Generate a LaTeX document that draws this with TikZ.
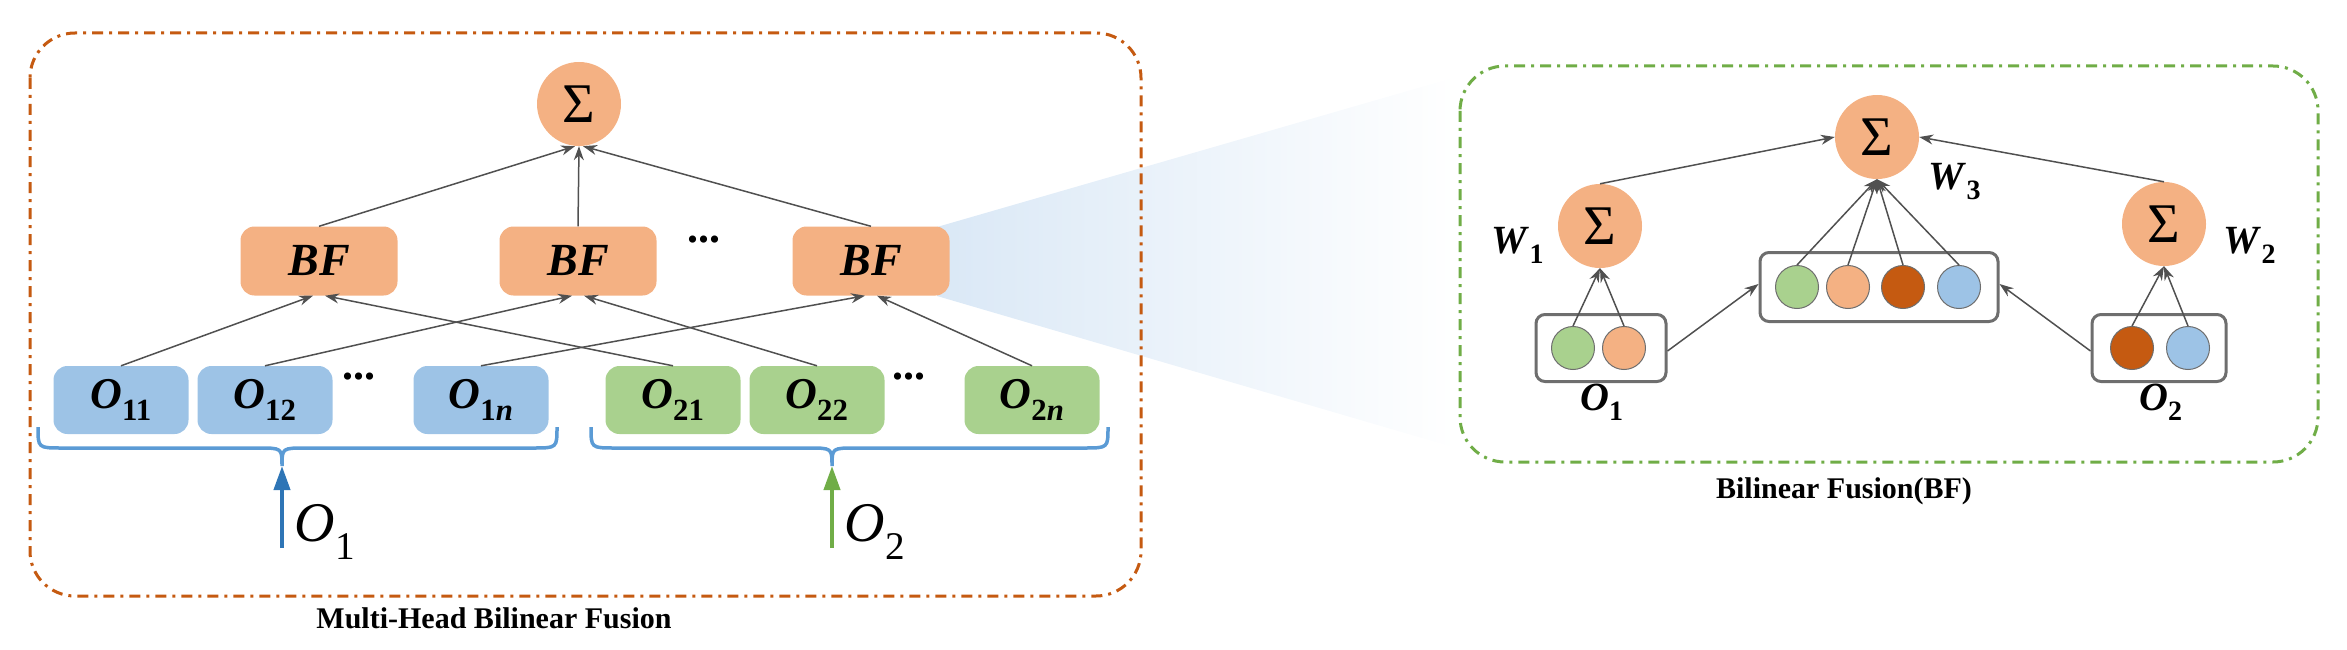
\documentclass[tikz,border=0pt]{standalone}
\usepackage{fontspec}
\setmainfont{Liberation Serif}
\usetikzlibrary{arrows.meta}
\definecolor{cor}{RGB}{244,177,131}
\definecolor{cbl}{RGB}{157,195,230}
\definecolor{cgr}{RGB}{169,209,142}
\definecolor{cdo}{RGB}{197,90,17}
\definecolor{cbrace}{RGB}{91,155,213}
\definecolor{cdb}{RGB}{46,117,182}
\definecolor{cdg}{RGB}{112,173,71}
\definecolor{carr}{RGB}{80,80,80}
\definecolor{cbox}{RGB}{110,110,110}
\definecolor{ctri}{RGB}{180,208,235}
\definecolor{ctril}{RGB}{218,232,246}
\newcommand{\bi}[2]{\textbf{\textit{#1}}\textsubscript{\textbf{#2}}}
\newcommand{\ii}[2]{\textit{#1}\textsubscript{#2}}
\tikzset{
  sig/.style={circle,fill=cor,minimum size=84pt,inner sep=0pt,font=\fontsize{56}{60}\selectfont},
  bf/.style={rounded corners=14pt,fill=cor,minimum width=157pt,minimum height=69pt,font=\fontsize{46}{48}\selectfont\bfseries\itshape},
  ob/.style={rounded corners=14pt,fill=cbl,minimum width=135pt,minimum height=68pt,font=\fontsize{44}{46}\selectfont},
  og/.style={ob,fill=cgr},
  dot/.style={circle,draw=cbox,line width=1pt,minimum size=43pt,inner sep=0pt},
  grp/.style={draw=cbox,line width=3pt,rounded corners=9pt},
  arr/.style={draw=carr,line width=1.5pt,-{Stealth[length=14pt,width=10pt]}},
  frame/.style={line width=3pt,rounded corners=45pt,dash pattern=on 11pt off 6pt on 3pt off 6pt},
  lbl/.style={font=\fontsize{40}{42}\selectfont},
  big/.style={font=\fontsize{56}{58}\selectfont},
  dd/.style={font=\fontsize{44}{44}\selectfont\bfseries},
  ttl/.style={font=\fontsize{30}{32}\selectfont\bfseries}
}
\begin{document}
\begin{tikzpicture}[x=1pt,y=-1pt]
\useasboundingbox (0,0) rectangle (2347,650);
\shade[left color=ctril,middle color=ctri,right color=white] (937,227) -- (1456,77) -- (1456,448) -- (937,296) -- cycle;
\draw[frame,draw=cdo] (30,33) rectangle (1141,596);
\node[ttl] (t1) at (494,618) {Multi-Head Bilinear Fusion};
\node[sig] (S) at (579,104) {Σ};
\node[bf] (B1) at (319,261) {BF};
\node[bf] (B2) at (578,261) {BF};
\node[bf] (B3) at (871,261) {BF};
\node[dd] (d0) at (704,240) {...};
\node[ob] (a1) at (121,400) {\bi{O}{11}};
\node[ob] (a2) at (265,400) {\bi{O}{12}};
\node[ob] (an) at (481,400) {\bi{O}{1\textit{n}}};
\node[og] (b1) at (673,400) {\bi{O}{21}};
\node[og] (b2) at (817,400) {\bi{O}{22}};
\node[og] (bn) at (1032,400) {\bi{O}{2\textit{n}}};
\node[dd] (d1) at (359,377) {...};
\node[dd] (d2) at (909,377) {...};
\draw[arr] (a1.north) -- ([xshift=-6pt]B1.south);
\draw[arr] (b1.north) -- ([xshift=6pt]B1.south);
\draw[arr] (a2.north) -- ([xshift=-6pt]B2.south);
\draw[arr] (b2.north) -- ([xshift=6pt]B2.south);
\draw[arr] (an.north) -- ([xshift=-6pt]B3.south);
\draw[arr] (bn.north) -- ([xshift=6pt]B3.south);
\draw[arr] (B1.north) -- ([xshift=-4pt]S.south);
\draw[arr] (B2.north) -- (S.south);
\draw[arr] (B3.north) -- ([xshift=4pt]S.south);
\draw[cbrace,line width=3.5pt] (38,427) .. controls (38,448) .. (62,448) -- (258,448) .. controls (282,448) .. (282,466)
  .. controls (282,448) .. (306,448) -- (533,448) .. controls (557,448) .. (557,427);
\draw[cbrace,line width=3.5pt] (591,427) .. controls (591,448) .. (615,448) -- (808,448) .. controls (832,448) .. (832,466)
  .. controls (832,448) .. (856,448) -- (1084,448) .. controls (1108,448) .. (1108,427);
\coordinate (p1s) at (282,548); \coordinate (p1e) at (282,466);
\coordinate (p2s) at (832,548); \coordinate (p2e) at (832,466);
\draw[cdb,line width=4pt,-{Triangle[length=24pt,width=16pt]}] (p1s) -- (p1e);
\draw[cdg,line width=4pt,-{Triangle[length=24pt,width=16pt]}] (p2s) -- (p2e);
\node[big] (L1) at (325,532) {\ii{O}{1}};
\node[big] (L2) at (875,532) {\ii{O}{2}};
\draw[frame,draw=cdg] (1460,66) rectangle (2318,462);
\node[ttl] (t2) at (1844,491) {Bilinear Fusion(BF)};
\node[sig] (T) at (1877,137) {Σ};
\node[sig] (U1) at (1600,226) {Σ};
\node[sig] (U2) at (2164,224) {Σ};
\node[lbl] (w3) at (1955,182) {\bi{W}{3}};
\node[lbl] (w1) at (1518,245) {\bi{W}{1}};
\node[lbl] (w2) at (2250,245) {\bi{W}{2}};
\node[grp,minimum width=238pt,minimum height=69pt] (M) at (1879,287) {};
\node[dot,fill=cgr] (m1) at (1797,287) {};
\node[dot,fill=cor] (m2) at (1848,287) {};
\node[dot,fill=cdo] (m3) at (1903,287) {};
\node[dot,fill=cbl] (m4) at (1959,287) {};
\node[grp,minimum width=130pt,minimum height=67pt] (G1) at (1601,348) {};
\node[dot,fill=cgr] (g1) at (1573,348) {};
\node[dot,fill=cor] (g2) at (1624,348) {};
\node[grp,minimum width=134pt,minimum height=67pt] (G2) at (2159,348) {};
\node[dot,fill=cdo] (h1) at (2132,348) {};
\node[dot,fill=cbl] (h2) at (2188,348) {};
\node[lbl] (o1) at (1602,402) {\bi{O}{1}};
\node[lbl] (o2) at (2161,402) {\bi{O}{2}};
\draw[arr] (g1.north) -- (U1.south);
\draw[arr] (g2.north) -- (U1.south);
\draw[arr] (h1.north) -- (U2.south);
\draw[arr] (h2.north) -- (U2.south);
\foreach \m in {m1,m2,m3,m4} \draw[arr] (\m.north) -- (T.south);
\draw[arr] (U1.north) -- (T.west);
\draw[arr] (U2.north) -- (T.east);
\draw[arr] ([yshift=-3pt]G1.east) -- ([yshift=3pt]M.west);
\draw[arr] ([yshift=-3pt]G2.west) -- ([yshift=3pt]M.east);
\end{tikzpicture}
\end{document}
